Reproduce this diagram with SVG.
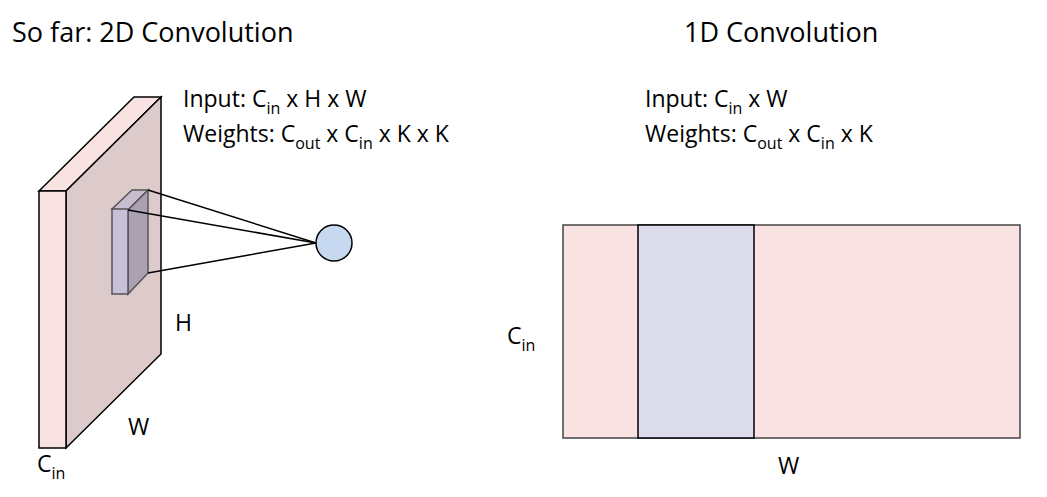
<svg xmlns="http://www.w3.org/2000/svg" width="1047" height="497" viewBox="0 0 1047 497">
<style>
text{font-family:"Open Sans","Liberation Sans",sans-serif;fill:#000}
.t{font-size:27px}.l{font-size:23px}.s{font-size:16px}
.e{stroke:#000;stroke-width:1.5}
.g{stroke:#555;stroke-width:1.5}
</style>
<rect width="1047" height="497" fill="#fff"/>
<text class="t" x="12" y="42">So far: 2D Convolution</text>
<text class="t" x="684" y="42">1D Convolution</text>
<g id="labels2d">
<text class="l" x="183" y="107">Input: C<tspan class="s" dy="7">in</tspan><tspan dy="-7"> x H x W</tspan></text>
<text class="l" x="183" y="142">Weights: C<tspan class="s" dy="7">out</tspan><tspan dy="-7"> x C</tspan><tspan class="s" dy="7">in</tspan><tspan dy="-7"> x K x K</tspan></text>
</g>
<g id="volume">
<polygon points="39,191 134,97 161,97 66,191" fill="#f9e2e2" class="e"/>
<polygon points="66,191 161,97 161,354 66,448" fill="#ddcbcb" class="e"/>
<rect x="39" y="191" width="27" height="257" fill="#f9e2e2" class="e"/>
</g>
<g id="kernel">
<polygon points="112,209 132,190 148,190 128,210" fill="#c8bccf" class="g"/>
<polygon points="128,210 148,190 148,273 128,294" fill="#aca1b2" class="g"/>
<rect x="112" y="209" width="16" height="85" fill="#c8c0d8" class="g"/>
</g>
<g id="connectors">
<line x1="148" y1="190" x2="316" y2="243" class="e"/>
<line x1="128" y1="210" x2="316" y2="243" class="e"/>
<line x1="148" y1="273" x2="316" y2="243" class="e"/>
</g>
<g id="output"><circle cx="334" cy="243" r="18" fill="#c6d9f1" class="e"/></g>
<text class="l" x="175" y="331">H</text>
<text class="l" x="128" y="435">W</text>
<text class="l" x="37" y="472">C<tspan class="s" dy="7">in</tspan></text>
<g id="labels1d">
<text class="l" x="645" y="107">Input: C<tspan class="s" dy="7">in</tspan><tspan dy="-7"> x W</tspan></text>
<text class="l" x="645" y="142">Weights: C<tspan class="s" dy="7">out</tspan><tspan dy="-7"> x C</tspan><tspan class="s" dy="7">in</tspan><tspan dy="-7"> x K</tspan></text>
</g>
<g id="seq">
<rect x="563" y="225" width="457" height="213" fill="#f9e2e2" stroke="#444" stroke-width="1.5"/>
<rect x="638" y="225" width="116" height="213" fill="#dcdcec" class="e"/>
</g>
<text class="l" x="507" y="344">C<tspan class="s" dy="7">in</tspan></text>
<text class="l" x="778" y="474">W</text>
</svg>
